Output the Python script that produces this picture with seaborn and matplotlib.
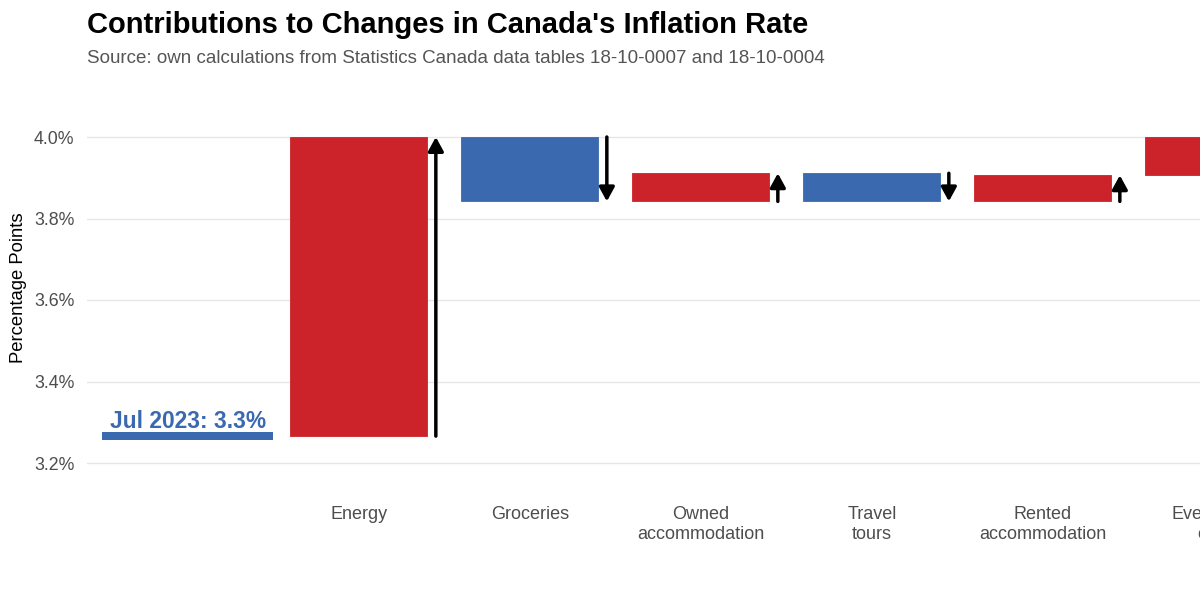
import matplotlib
matplotlib.use("Agg")
import matplotlib.pyplot as plt
import seaborn as sns
import numpy as np
import pandas as pd

# ---------------- data ----------------
title = "Contributions to Changes in Canada's Inflation Rate"
subtitle = "Source: own calculations from Statistics Canada data tables 18-10-0007 and 18-10-0004"
categories = ["Jul 2023", "Energy", "Groceries", "Owned accommodation", "Travel tours",
              "Rented accommodation", "Everything else"]
tick_labels = ["", "Energy", "Groceries", "Owned\naccommodation", "Travel\ntours",
               "Rented\naccommodation", "Everything\nelse"]
start_value = 3.266
start_label = "Jul 2023: 3.3%"
changes = [0.734, -0.158, 0.069, -0.069, 0.064, 0.094]
yticks = [3.2, 3.4, 3.6, 3.8, 4.0]
ytick_labels = ["3.2%", "3.4%", "3.6%", "3.8%", "4.0%"]

RED = "#cb2329"
BLUE = "#3a69b0"

# waterfall table
levels = start_value + np.concatenate([[0.0], np.cumsum(changes)])
df = pd.DataFrame({
    "category": categories[1:],
    "bottom": levels[:-1],
    "height": changes,
})
df["dir"] = np.where(df["height"] >= 0, "up", "down")
base_df = pd.DataFrame({"category": [categories[0]], "bottom": [start_value - 0.01], "height": [0.02]})

# ---------------- figure ----------------
sns.set_theme(style="white")
plt.rcParams["font.family"] = ["Liberation Sans", "DejaVu Sans"]

fig = plt.figure(figsize=(12, 6), dpi=100)
step_px = 171.0
left_px = 87.0
xmin = -0.59
ax_w_px = 1406.0
ax_bottom_px = 120.7
ax_h_px = 358.6
ax = fig.add_axes([left_px / 1200, ax_bottom_px / 600, ax_w_px / 1200, ax_h_px / 600])

sns.barplot(data=base_df, x="category", y="height", order=categories, color=BLUE,
            saturation=1, width=1.0, bottom=base_df["bottom"].values, errorbar=None,
            linewidth=0, ax=ax)
for d, col in [("up", RED), ("down", BLUE)]:
    sub = df[df["dir"] == d]
    sns.barplot(data=sub, x="category", y="height", order=categories, color=col,
                saturation=1, width=0.8, bottom=sub["bottom"].values, errorbar=None,
                linewidth=0.6, edgecolor=col, ax=ax)

# arrows
for i, row in enumerate(df.itertuples(), start=1):
    ax.annotate("", xy=(i + 0.45, row.bottom + row.height), xytext=(i + 0.45, row.bottom),
                arrowprops=dict(arrowstyle="-|>,head_length=0.42,head_width=0.23",
                                color="black", lw=2.5, shrinkA=0, shrinkB=0,
                                mutation_scale=20),
                annotation_clip=False)

ax.text(0, start_value + 0.021, start_label, ha="center", va="baseline",
        color=BLUE, fontsize=16.4, fontweight="bold")

ax.set_xlim(xmin, xmin + ax_w_px / step_px)
ax.set_ylim(3.16, 4.04)
ax.set_yticks(yticks)
ax.set_yticklabels(ytick_labels)
ax.set_xticks(range(len(categories)))
ax.set_xticklabels(tick_labels, linespacing=1.2)
ax.tick_params(axis="y", length=0, pad=9, labelsize=12.8, labelcolor="#4d4d4d")
ax.tick_params(axis="x", length=0, pad=19.5, labelsize=13, labelcolor="#4d4d4d")
ax.set_xlabel("")
ax.set_ylabel("")
ax.grid(axis="y", color="#e6e6e6", linewidth=1.0)
ax.grid(axis="x", visible=False)
ax.set_axisbelow(True)
for s in ax.spines.values():
    s.set_visible(False)

fig.text(18.5 / 1200, 1 - 287.5 / 600, "Percentage Points", rotation=90,
         ha="center", va="center", fontsize=13.3, color="black")
fig.text(left_px / 1200, 1 - 33 / 600, title, ha="left", va="baseline",
         fontsize=21, fontweight="bold", color="black")
fig.text(left_px / 1200, 1 - 63 / 600, subtitle, ha="left", va="baseline",
         fontsize=13.5, color="#555555")

fig.savefig("out.png", dpi=100)
